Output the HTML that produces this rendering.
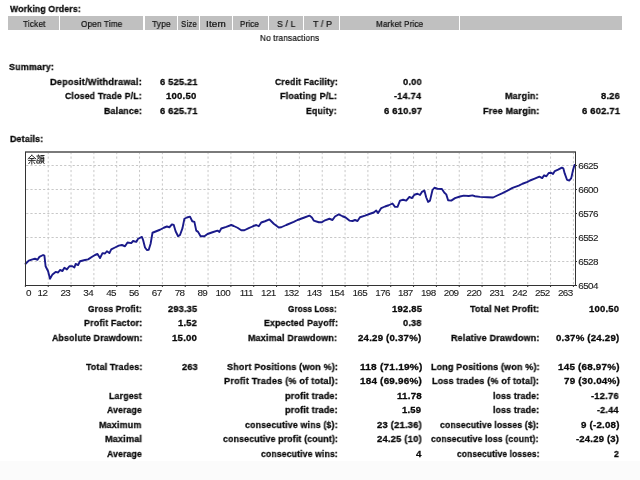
<!DOCTYPE html>
<html><head><meta charset="utf-8">
<style>
html,body{margin:0;padding:0;width:640px;height:480px;overflow:hidden;background:#fff;}
body{position:relative;font-family:"Liberation Sans",sans-serif;color:#0a0a0a;}
.b,.r{position:absolute;line-height:0;white-space:nowrap;transform-origin:0 0;will-change:transform;}
.b{font-weight:bold;font-size:9.5px;letter-spacing:0.2px;-webkit-text-stroke:0.3px #0a0a0a;}
.r{font-size:9.4px;letter-spacing:0.15px;color:#111;-webkit-text-stroke:0.22px #111;}
.h{color:#111;}
.hc{position:absolute;top:16px;height:13.6px;background:#c0c0c0;}
#foot{position:absolute;left:0;top:461.4px;width:640px;height:19px;background:#fbfbfb;}
svg#chart{position:absolute;left:0;top:0;}
</style></head><body>
<div class="hc" style="left:8px;width:51px"></div><div class="hc" style="left:60px;width:83px"></div><div class="hc" style="left:144.5px;width:32.5px"></div><div class="hc" style="left:178px;width:21px"></div><div class="hc" style="left:200px;width:32px"></div><div class="hc" style="left:233px;width:35px"></div><div class="hc" style="left:269px;width:34px"></div><div class="hc" style="left:304px;width:35px"></div><div class="hc" style="left:340px;width:119px"></div><div class="hc" style="left:460px;width:162px"></div>
<div class="b" style="left:10.10px;top:8.71px;transform:scaleX(0.912)">Working Orders:</div><div class="b" style="left:8.86px;top:66.91px;transform:scaleX(0.939)">Summary:</div><div class="b" style="left:9.57px;top:139.21px;transform:scaleX(0.929)">Details:</div><div class="r" style="left:260.12px;top:37.84px;transform:scaleX(0.879)">No transactions</div><div class="b" style="left:50.28px;top:81.71px;transform:scaleX(0.968)">Deposit/Withdrawal:</div><div class="b" style="left:65.00px;top:96.11px;transform:scaleX(0.919)">Closed Trade P/L:</div><div class="b" style="left:104.07px;top:110.51px;transform:scaleX(0.929)">Balance:</div><div class="b" style="left:159.50px;top:81.71px;transform:scaleX(0.980)">6 525.21</div><div class="b" style="left:166.49px;top:96.11px;transform:scaleX(1.009)">100.50</div><div class="b" style="left:159.50px;top:110.51px;transform:scaleX(0.980)">6 625.71</div><div class="b" style="left:274.60px;top:81.71px;transform:scaleX(0.912)">Credit Facility:</div><div class="b" style="left:280.35px;top:96.11px;transform:scaleX(0.953)">Floating P/L:</div><div class="b" style="left:306.38px;top:110.51px;transform:scaleX(0.916)">Equity:</div><div class="b" style="left:402.80px;top:81.71px;transform:scaleX(0.979)">0.00</div><div class="b" style="left:394.30px;top:96.11px;transform:scaleX(0.968)">-14.74</div><div class="b" style="left:383.70px;top:110.51px;transform:scaleX(0.992)">6 610.97</div><div class="b" style="left:505.05px;top:96.11px;transform:scaleX(0.947)">Margin:</div><div class="b" style="left:483.05px;top:110.51px;transform:scaleX(0.951)">Free Margin:</div><div class="b" style="left:600.50px;top:96.11px;transform:scaleX(0.984)">8.26</div><div class="b" style="left:581.50px;top:110.51px;transform:scaleX(0.992)">6 602.71</div><div class="b" style="left:87.80px;top:308.81px;transform:scaleX(0.888)">Gross Profit:</div><div class="b" style="left:84.06px;top:323.29px;transform:scaleX(0.935)">Profit Factor:</div><div class="b" style="left:51.60px;top:337.77px;transform:scaleX(0.923)">Absolute Drawdown:</div><div class="b" style="left:85.60px;top:366.73px;transform:scaleX(0.925)">Total Trades:</div><div class="b" style="left:108.88px;top:395.69px;transform:scaleX(0.921)">Largest</div><div class="b" style="left:106.60px;top:410.17px;transform:scaleX(0.908)">Average</div><div class="b" style="left:98.76px;top:424.65px;transform:scaleX(0.941)">Maximum</div><div class="b" style="left:104.74px;top:439.13px;transform:scaleX(0.957)">Maximal</div><div class="b" style="left:106.60px;top:453.61px;transform:scaleX(0.908)">Average</div><div class="b" style="left:167.80px;top:308.81px;transform:scaleX(0.970)">293.35</div><div class="b" style="left:178.11px;top:323.29px;transform:scaleX(0.989)">1.52</div><div class="b" style="left:172.48px;top:337.77px;transform:scaleX(1.017)">15.00</div><div class="b" style="left:181.50px;top:366.73px;transform:scaleX(0.963)">263</div><div class="b" style="left:288.30px;top:308.81px;transform:scaleX(0.847)">Gross Loss:</div><div class="b" style="left:263.78px;top:323.29px;transform:scaleX(0.922)">Expected Payoff:</div><div class="b" style="left:248.06px;top:337.77px;transform:scaleX(0.942)">Maximal Drawdown:</div><div class="b" style="left:226.55px;top:366.73px;transform:scaleX(0.949)">Short Positions (won %):</div><div class="b" style="left:223.94px;top:381.21px;transform:scaleX(0.963)">Profit Trades (% of total):</div><div class="b" style="left:284.55px;top:395.69px;transform:scaleX(0.946)">profit trade:</div><div class="b" style="left:284.55px;top:410.17px;transform:scaleX(0.946)">profit trade:</div><div class="b" style="left:245.00px;top:424.65px;transform:scaleX(0.925)">consecutive wins ($):</div><div class="b" style="left:222.50px;top:439.13px;transform:scaleX(0.920)">consecutive profit (count):</div><div class="b" style="left:260.80px;top:453.61px;transform:scaleX(0.902)">consecutive wins:</div><div class="b" style="left:391.50px;top:308.81px;transform:scaleX(0.997)">192.85</div><div class="b" style="left:403.00px;top:323.29px;transform:scaleX(0.968)">0.38</div><div class="b" style="left:358.30px;top:337.77px;transform:scaleX(1.018)">24.29 (0.37%)</div><div class="b" style="left:359.74px;top:366.73px;transform:scaleX(1.063)">118 (71.19%)</div><div class="b" style="left:359.86px;top:381.21px;transform:scaleX(1.043)">184 (69.96%)</div><div class="b" style="left:396.67px;top:395.69px;transform:scaleX(1.030)">11.78</div><div class="b" style="left:402.40px;top:410.17px;transform:scaleX(1.000)">1.59</div><div class="b" style="left:376.90px;top:424.65px;transform:scaleX(0.989)">23 (21.36)</div><div class="b" style="left:376.90px;top:439.13px;transform:scaleX(0.989)">24.25 (10)</div><div class="b" style="left:416.30px;top:453.61px;transform:scaleX(1.020)">4</div><div class="b" style="left:469.80px;top:308.81px;transform:scaleX(0.938)">Total Net Profit:</div><div class="b" style="left:450.56px;top:337.77px;transform:scaleX(0.943)">Relative Drawdown:</div><div class="b" style="left:430.86px;top:366.73px;transform:scaleX(0.942)">Long Positions (won %):</div><div class="b" style="left:432.25px;top:381.21px;transform:scaleX(0.947)">Loss trades (% of total):</div><div class="b" style="left:493.28px;top:395.69px;transform:scaleX(0.919)">loss trade:</div><div class="b" style="left:493.28px;top:410.17px;transform:scaleX(0.919)">loss trade:</div><div class="b" style="left:440.30px;top:424.65px;transform:scaleX(0.907)">consecutive losses ($):</div><div class="b" style="left:431.20px;top:439.13px;transform:scaleX(0.900)">consecutive loss (count):</div><div class="b" style="left:456.60px;top:453.61px;transform:scaleX(0.878)">consecutive losses:</div><div class="b" style="left:589.00px;top:308.81px;transform:scaleX(0.997)">100.50</div><div class="b" style="left:555.80px;top:337.77px;transform:scaleX(1.018)">0.37% (24.29)</div><div class="b" style="left:557.66px;top:366.73px;transform:scaleX(1.038)">145 (68.97%)</div><div class="b" style="left:563.90px;top:381.21px;transform:scaleX(1.038)">79 (30.04%)</div><div class="b" style="left:591.30px;top:395.69px;transform:scaleX(0.986)">-12.76</div><div class="b" style="left:597.00px;top:410.17px;transform:scaleX(0.952)">-2.44</div><div class="b" style="left:581.00px;top:424.65px;transform:scaleX(1.024)">9 (-2.08)</div><div class="b" style="left:575.90px;top:439.13px;transform:scaleX(1.000)">-24.29 (3)</div><div class="b" style="left:614.30px;top:453.61px;transform:scaleX(0.920)">2</div><div class="r h" style="left:22.50px;top:23.74px;transform:scaleX(0.884)">Ticket</div><div class="r h" style="left:81.25px;top:23.74px;transform:scaleX(0.878)">Open Time</div><div class="r h" style="left:152.00px;top:23.74px;transform:scaleX(0.900)">Type</div><div class="r h" style="left:180.76px;top:23.74px;transform:scaleX(0.841)">Size</div><div class="r h" style="left:205.94px;top:23.74px;transform:scaleX(1.059)">Item</div><div class="r h" style="left:240.39px;top:23.74px;transform:scaleX(0.857)">Price</div><div class="r h" style="left:276.58px;top:23.74px;transform:scaleX(0.921)">S / L</div><div class="r h" style="left:312.50px;top:23.74px;transform:scaleX(0.938)">T / P</div><div class="r h" style="left:376.13px;top:23.74px;transform:scaleX(0.868)">Market Price</div>
<svg id="chart" width="640" height="480" viewBox="0 0 640 480">
<style>
.gh{stroke:#c8c8c8;stroke-width:1;stroke-dasharray:2.2 2.02;}
.gv{stroke:#c8c8c8;stroke-width:1;stroke-dasharray:2.2 2.28;}
.t{stroke:#333;stroke-width:1;}
text{font-family:"Liberation Sans",sans-serif;font-size:9.9px;letter-spacing:-0.6px;fill:#1a1a1a;stroke:#1a1a1a;stroke-width:0.1px;}
</style>
<line x1="48.22" y1="152.04" x2="48.22" y2="285" class="gv"/><line x1="71.06" y1="152.04" x2="71.06" y2="285" class="gv"/><line x1="93.89" y1="152.04" x2="93.89" y2="285" class="gv"/><line x1="116.73" y1="152.04" x2="116.73" y2="285" class="gv"/><line x1="139.56" y1="152.04" x2="139.56" y2="285" class="gv"/><line x1="162.39" y1="152.04" x2="162.39" y2="285" class="gv"/><line x1="185.23" y1="152.04" x2="185.23" y2="285" class="gv"/><line x1="208.06" y1="152.04" x2="208.06" y2="285" class="gv"/><line x1="230.90" y1="152.04" x2="230.90" y2="285" class="gv"/><line x1="253.73" y1="152.04" x2="253.73" y2="285" class="gv"/><line x1="276.56" y1="152.04" x2="276.56" y2="285" class="gv"/><line x1="299.40" y1="152.04" x2="299.40" y2="285" class="gv"/><line x1="322.23" y1="152.04" x2="322.23" y2="285" class="gv"/><line x1="345.07" y1="152.04" x2="345.07" y2="285" class="gv"/><line x1="367.90" y1="152.04" x2="367.90" y2="285" class="gv"/><line x1="390.73" y1="152.04" x2="390.73" y2="285" class="gv"/><line x1="413.57" y1="152.04" x2="413.57" y2="285" class="gv"/><line x1="436.40" y1="152.04" x2="436.40" y2="285" class="gv"/><line x1="459.24" y1="152.04" x2="459.24" y2="285" class="gv"/><line x1="482.07" y1="152.04" x2="482.07" y2="285" class="gv"/><line x1="504.90" y1="152.04" x2="504.90" y2="285" class="gv"/><line x1="527.74" y1="152.04" x2="527.74" y2="285" class="gv"/><line x1="550.57" y1="152.04" x2="550.57" y2="285" class="gv"/><line x1="573.41" y1="152.04" x2="573.41" y2="285" class="gv"/><line x1="26.18" y1="165.5" x2="575" y2="165.5" class="gh"/><line x1="26.18" y1="189.5" x2="575" y2="189.5" class="gh"/><line x1="26.18" y1="213.5" x2="575" y2="213.5" class="gh"/><line x1="26.18" y1="237.5" x2="575" y2="237.5" class="gh"/><line x1="26.18" y1="261.5" x2="575" y2="261.5" class="gh"/>
<polyline points="25.6,263.75 28.75,260.6 32.5,259.4 35,258.75 37.5,259.75 39.4,256.9 43.1,255 44.4,255.6 45.6,266.25 48.1,271.25 50,278.75 52.5,274.4 55.6,271.9 58.1,272.5 60,270 62.5,271 64.4,267.75 66.9,269.4 69.4,266.25 72.5,266.25 74.4,267.5 75.6,264 78.1,265 80,261.25 85,260 88.1,259.4 92.5,256.5 95,255 97.5,254 100,258.1 102.5,253.1 105,253.5 106.9,251.25 109.4,253.1 111.25,249.4 115,247.5 118.75,245.6 121.9,245 125,246.25 127.5,242.5 131.25,243.1 133.1,241 136.25,241.9 138.1,238.75 141.9,236.9 143.1,240 145,247.5 146.9,250 148.75,249.75 150.6,243.75 152.5,232.75 156.25,231.25 160,229.75 163.75,227.75 166.9,226.5 169.4,227.25 171.9,224.4 173.75,225 175.6,231.25 178.1,236.25 180,235 182.5,228.1 184.4,218.75 186.9,217.5 190,216.6 192.25,221.25 194.4,221.9 196.25,230.6 198.1,231.9 200.6,236.25 204.4,236.25 207.5,234 212.5,232.25 217.5,230.6 219.4,231.9 221.25,228.5 226.25,226.9 231.25,225 233.75,226 237.5,227.75 241.25,230.25 244.4,230.25 248.75,228.1 252.5,226.5 256.25,225 258.75,226.25 261.25,222.5 265,221.25 269.4,219.4 271.25,221.25 273.75,223.75 278.75,227.5 281.25,227.25 286.25,225 293.75,221.9 297.5,220 303.75,217.75 309.4,215.6 311.9,217.5 313.75,220.6 318.75,222.25 321.9,222.25 325,220.3 329.4,218.75 332.5,220 335,216.5 338.75,214.4 342.5,216.25 345.6,217.5 349.4,220.6 352.5,221 355,220 357.5,221 360,217.25 365,215.6 370,213.75 373.75,212.5 376.25,210.6 378.1,213.1 381.25,208.1 385,206.5 388.75,205.25 392.5,203.5 395,206.9 397.5,206.9 400,200.6 403.1,199.75 406.25,200.6 409.4,196.9 411.9,198.1 414.4,194.75 417.5,193.75 420,195 421.9,191.9 424.4,190.6 426.25,197.5 428.1,201.9 430,200.6 432.5,190 434.4,187.75 437.5,188.75 441.9,189 444.4,192.75 446.25,194.4 448.1,200.25 451.25,200.6 455,198.1 460,196.5 463.75,195.6 468.75,196 472.5,195.4 475,196.25 480,196.9 487.5,197.25 493.1,197.5 496.25,196 502.5,193.1 507.5,190.6 512.5,187.9 518.75,185.6 522.5,183.75 527.5,181.9 530,180.5 534.7,178.6 539.4,176.6 542.2,178.1 544.1,175.3 546.4,176.25 548.75,173 551.1,172.7 553,173.9 554.8,171.1 558.1,169.7 561.9,167.6 563.3,168.3 564.7,173.4 567,179.8 569.4,180.5 571.25,178.1 573.1,169.7 574.5,165" fill="none" stroke="#1a1a8a" stroke-width="1.9" stroke-linejoin="round" stroke-linecap="round"/>
<rect x="25" y="151" width="551" height="2" fill="#7a7a7a"/>
<rect x="25" y="152" width="1" height="134" fill="#333"/>
<rect x="575" y="152" width="1" height="134" fill="#333"/>
<rect x="25" y="285" width="551" height="1" fill="#333"/>
<line x1="25.39" y1="285" x2="25.39" y2="287" class="t"/><line x1="48.22" y1="285" x2="48.22" y2="287" class="t"/><line x1="71.06" y1="285" x2="71.06" y2="287" class="t"/><line x1="93.89" y1="285" x2="93.89" y2="287" class="t"/><line x1="116.73" y1="285" x2="116.73" y2="287" class="t"/><line x1="139.56" y1="285" x2="139.56" y2="287" class="t"/><line x1="162.39" y1="285" x2="162.39" y2="287" class="t"/><line x1="185.23" y1="285" x2="185.23" y2="287" class="t"/><line x1="208.06" y1="285" x2="208.06" y2="287" class="t"/><line x1="230.90" y1="285" x2="230.90" y2="287" class="t"/><line x1="253.73" y1="285" x2="253.73" y2="287" class="t"/><line x1="276.56" y1="285" x2="276.56" y2="287" class="t"/><line x1="299.40" y1="285" x2="299.40" y2="287" class="t"/><line x1="322.23" y1="285" x2="322.23" y2="287" class="t"/><line x1="345.07" y1="285" x2="345.07" y2="287" class="t"/><line x1="367.90" y1="285" x2="367.90" y2="287" class="t"/><line x1="390.73" y1="285" x2="390.73" y2="287" class="t"/><line x1="413.57" y1="285" x2="413.57" y2="287" class="t"/><line x1="436.40" y1="285" x2="436.40" y2="287" class="t"/><line x1="459.24" y1="285" x2="459.24" y2="287" class="t"/><line x1="482.07" y1="285" x2="482.07" y2="287" class="t"/><line x1="504.90" y1="285" x2="504.90" y2="287" class="t"/><line x1="527.74" y1="285" x2="527.74" y2="287" class="t"/><line x1="550.57" y1="285" x2="550.57" y2="287" class="t"/><line x1="573.41" y1="285" x2="573.41" y2="287" class="t"/>
<text x="26" y="296" text-anchor="start">0</text><text x="47.42" y="296" text-anchor="end">12</text><text x="70.26" y="296" text-anchor="end">23</text><text x="93.09" y="296" text-anchor="end">34</text><text x="115.93" y="296" text-anchor="end">45</text><text x="138.76" y="296" text-anchor="end">56</text><text x="161.59" y="296" text-anchor="end">67</text><text x="184.43" y="296" text-anchor="end">78</text><text x="207.26" y="296" text-anchor="end">89</text><text x="230.10" y="296" text-anchor="end">100</text><text x="252.93" y="296" text-anchor="end">111</text><text x="275.76" y="296" text-anchor="end">121</text><text x="298.60" y="296" text-anchor="end">132</text><text x="321.43" y="296" text-anchor="end">143</text><text x="344.27" y="296" text-anchor="end">154</text><text x="367.10" y="296" text-anchor="end">165</text><text x="389.93" y="296" text-anchor="end">176</text><text x="412.77" y="296" text-anchor="end">187</text><text x="435.60" y="296" text-anchor="end">198</text><text x="458.44" y="296" text-anchor="end">209</text><text x="481.27" y="296" text-anchor="end">220</text><text x="504.10" y="296" text-anchor="end">231</text><text x="526.94" y="296" text-anchor="end">242</text><text x="549.77" y="296" text-anchor="end">252</text><text x="572.61" y="296" text-anchor="end">263</text>
<text x="578.3" y="168.6">6625</text><line x1="575" y1="165.5" x2="577" y2="165.5" class="t"/><text x="578.3" y="192.6">6600</text><line x1="575" y1="189.5" x2="577" y2="189.5" class="t"/><text x="578.3" y="216.6">6576</text><line x1="575" y1="213.5" x2="577" y2="213.5" class="t"/><text x="578.3" y="240.6">6552</text><line x1="575" y1="237.5" x2="577" y2="237.5" class="t"/><text x="578.3" y="264.6">6528</text><line x1="575" y1="261.5" x2="577" y2="261.5" class="t"/><text x="578.3" y="288.6">6504</text><line x1="575" y1="285.5" x2="577" y2="285.5" class="t"/>
<g stroke="#222" stroke-width="0.95" fill="none" stroke-linecap="square">
<path d="M31.8 155.3 L28.1 158.7 M31.8 155.3 L35.7 158.7 M29.8 158.5 H33.9 M28.6 160.4 H35.2 M31.8 158.5 V164 M30.1 161.9 L28.8 163.6 M33.5 161.9 L34.8 163.6"/>
<path d="M38.4 155 V155.7 M36.9 156.1 H40 V156.8 M37.7 157.3 L39.8 159.3 M39.5 157.3 L37.1 159.5 M37.3 160.7 H39.7 V163.1 H37.3 Z M40.9 155.5 H44 M41.3 157 H43.7 V161.7 H41.3 Z M41.3 158.5 H43.7 M41.3 160.1 H43.7 M41.8 162.3 L40.9 163.5 M43.2 162.3 L44.1 163.5"/>
</g>
</svg>
<div id="foot"></div>
</body></html>
